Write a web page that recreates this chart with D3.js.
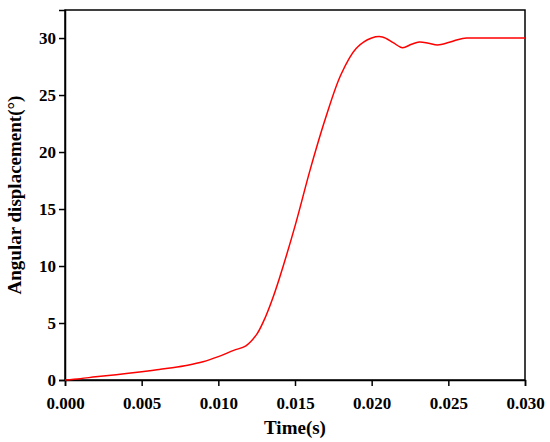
<!DOCTYPE html><html><head><meta charset="utf-8"><script src="https://cdn.jsdelivr.net/npm/d3@7"></script>
<style>body{margin:0;background:#fff}</style></head><body><svg id="c" width="550" height="442"></svg>
<script>
const timeS=[0,0.001,0.002,0.003,0.004,0.005,0.006,0.007,0.008,0.009,0.010,0.011,0.0118,0.0125,0.013,0.0135,0.014,0.015,0.016,0.017,0.018,0.019,0.020,0.0207,0.0214,0.022,0.0226,0.0231,0.0237,0.0243,0.025,0.0256,0.0262,0.027,0.028,0.030];
const angle=[0,0.12,0.28,0.42,0.56,0.72,0.9,1.08,1.3,1.6,2.05,2.6,3.0,4.0,5.3,7.0,9.0,13.5,18.5,23.0,26.8,29.1,30.0,30.1,29.6,29.15,29.45,29.65,29.55,29.4,29.6,29.85,30.0,30.0,30.0,30.0];
const xTicks=[0,0.005,0.010,0.015,0.020,0.025,0.030];
const yTicks=[0,5,10,15,20,25,30];
const svg=d3.select("#c");
const L=65,R=525,T=10,B=380;
const x=d3.scaleLinear().domain([0,0.03]).range([L,R]);
const y=d3.scaleLinear().domain([0,32.46]).range([B,T]);
const font="'Times New Roman','Liberation Serif',serif";
svg.append("rect").attr("x",L).attr("y",T).attr("width",R-L).attr("height",B-T).attr("fill","none").attr("stroke","#000").attr("stroke-width",1.5);
const xMinor=d3.range(0,0.0301,0.0025), yMinor=d3.range(0,32.5,2.5);
const gx=svg.append("g").attr("transform",`translate(0,${B})`);
gx.call(d3.axisBottom(x).tickValues(xMinor).tickSize(3).tickFormat(""));
gx.call(d3.axisBottom(x).tickValues(xTicks).tickSize(6).tickFormat(d3.format(".3f")));
const gy=svg.append("g").attr("transform",`translate(${L},0)`);
gy.call(d3.axisLeft(y).tickValues(yMinor).tickSize(3).tickFormat(""));
gy.call(d3.axisLeft(y).tickValues(yTicks).tickSize(6).tickFormat(d3.format("d")));
svg.selectAll(".domain").attr("stroke-width",1.5);
svg.selectAll(".tick line").attr("stroke-width",1.5);
svg.selectAll(".tick text").attr("font-family",font).attr("font-weight","bold").attr("font-size",17).attr("fill","#000");
gx.selectAll(".tick text").attr("dy","1.15em");
svg.append("path").datum(timeS.map((t,i)=>[t,angle[i]])).attr("fill","none").attr("stroke","#f00").attr("stroke-width",1.5)
 .attr("d",d3.line().x(d=>x(d[0])).y(d=>y(d[1])).curve(d3.curveCatmullRom));
svg.append("text").attr("x",(L+R)/2).attr("y",434).attr("text-anchor","middle").attr("font-family",font).attr("font-weight","bold").attr("font-size",19).text("Time(s)");
svg.append("text").attr("transform",`translate(21,${(T+B)/2}) rotate(-90)`).attr("text-anchor","middle").attr("font-family",font).attr("font-weight","bold").attr("font-size",19).text("Angular displacement(°)");
</script></body></html>
